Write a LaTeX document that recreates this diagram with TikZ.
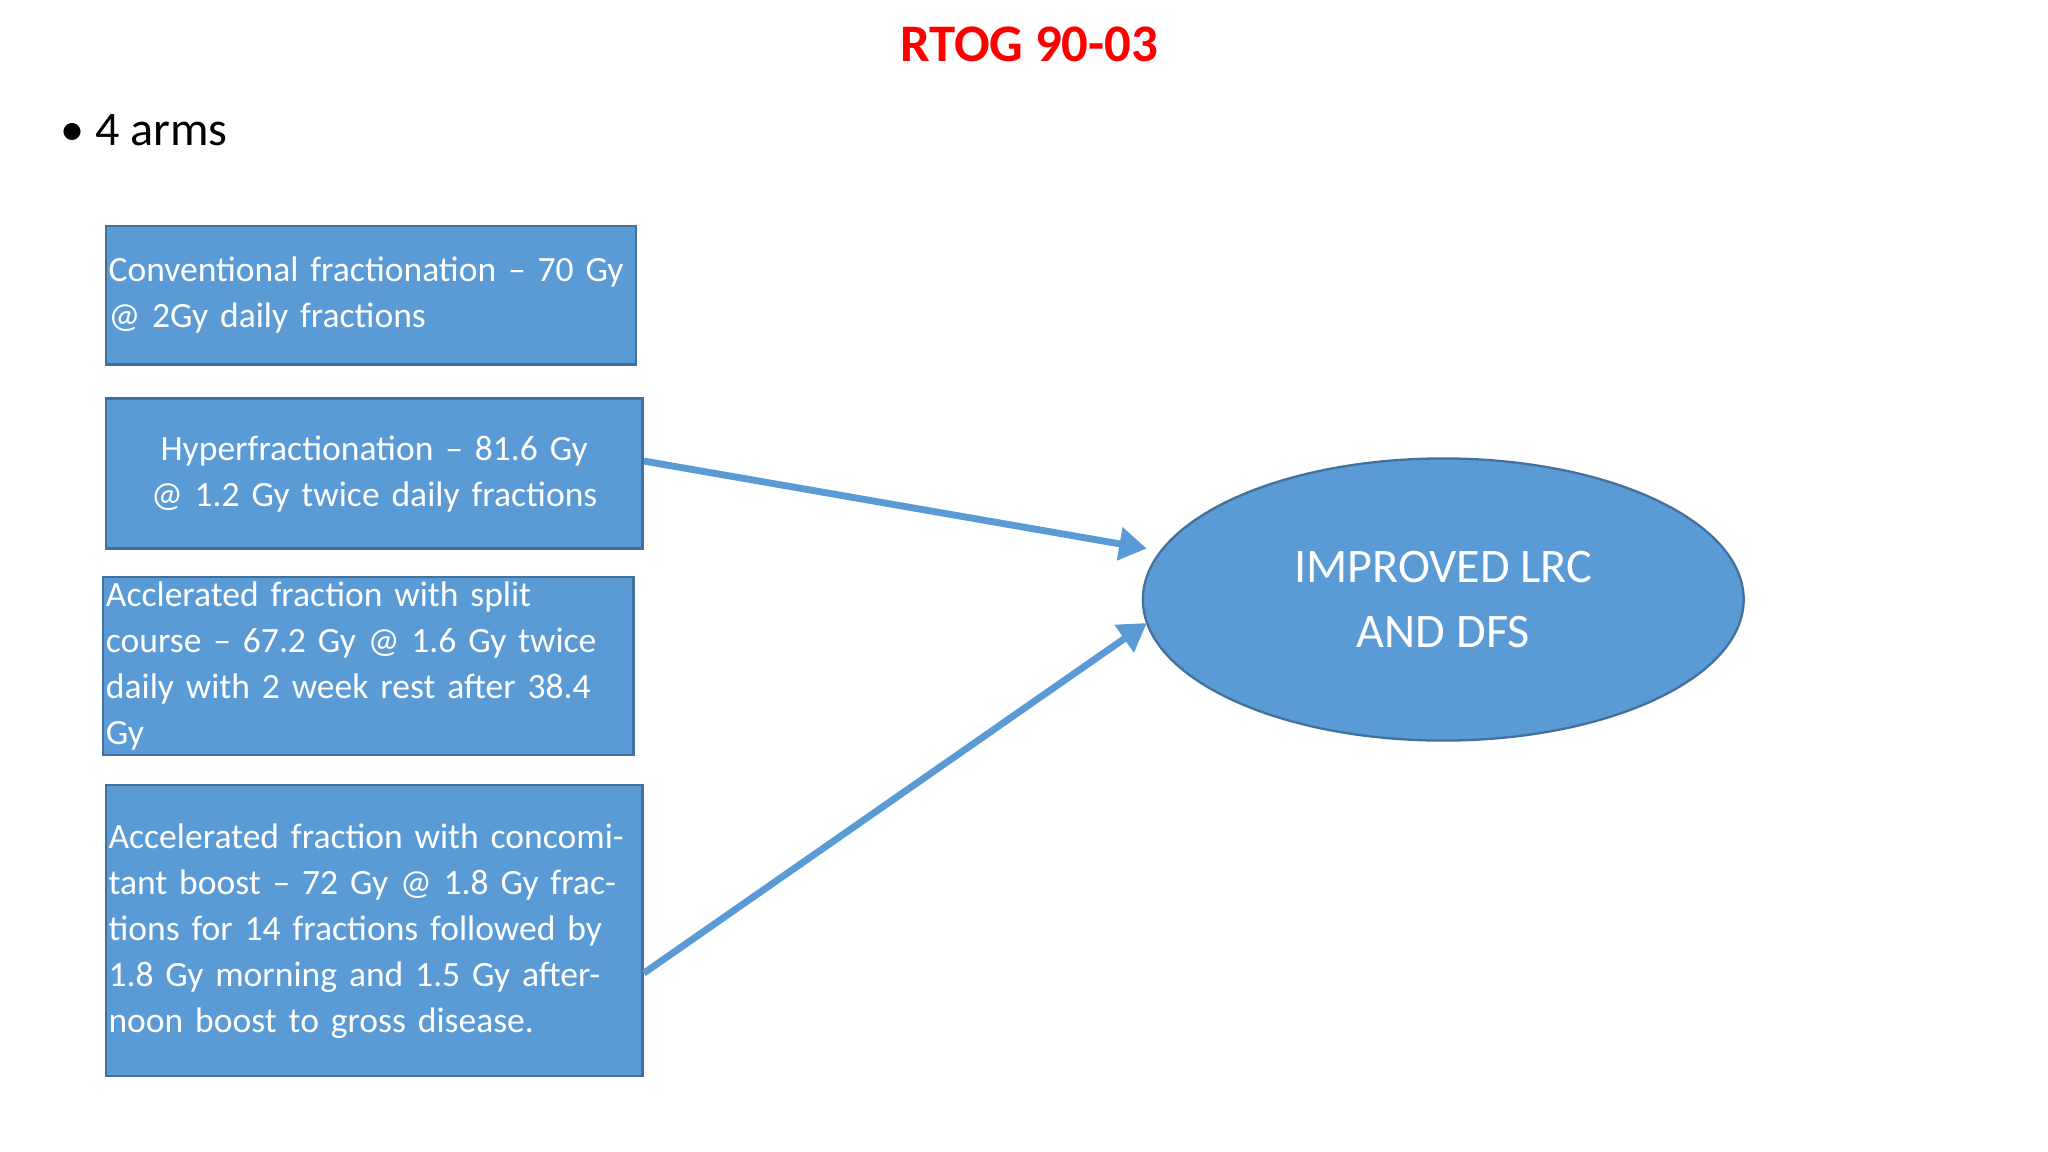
\documentclass[tikz,border=0pt]{standalone}
\usepackage{fontspec}
\setmainfont{Carlito}
\usetikzlibrary{shapes.geometric,arrows.meta}
\definecolor{fillb}{HTML}{5B9BD5}
\definecolor{drawb}{HTML}{41719C}
\begin{document}
\begin{tikzpicture}[x=0.02cm,y=-0.02cm,
 box/.style={draw=drawb,line width=1pt,fill=fillb,text=white,font=\fontsize{15.5}{20}\selectfont,inner sep=1pt,anchor=north west},
 arr/.style={draw=fillb,line width=3pt,-{Triangle[length=12pt,width=14pt]}}]
\useasboundingbox (0,0) rectangle (1568,882);
\node[text=red,font=\bfseries\fontsize{23}{28}\selectfont] (t) at (788,34) {RTOG 90-03};
\node[anchor=west,font=\fontsize{21}{26}\selectfont] (a) at (40,100) {\textbullet\ 4 arms};
\path[box] (81,173) rectangle (487,279);
\node[anchor=west,text=white,font=\fontsize{15.5}{20}\selectfont,text width=400*0.02cm,align=left,inner sep=1pt] (b1) at (81,226) {Conventional fractionation – 70 Gy @ 2Gy daily fractions};
\path[box] (81,305) rectangle (492,420);
\node[text=white,font=\fontsize{15.5}{20}\selectfont,text width=405*0.02cm,align=center,inner sep=1pt] (b2) at (286.5,363) {Hyperfractionation – 81.6 Gy @ 1.2 Gy twice daily fractions};
\path[box] (79,442) rectangle (485,578);
\node[anchor=west,text=white,font=\fontsize{15.5}{20}\selectfont,text width=400*0.02cm,align=left,inner sep=1pt] (b3) at (79,510) {Acclerated fraction with split course – 67.2 Gy @ 1.6 Gy twice daily with 2 week rest after 38.4 Gy};
\path[box] (81,601) rectangle (492,824);
\node[anchor=west,text=white,font=\fontsize{15.5}{20}\selectfont,text width=405*0.02cm,align=left,inner sep=1pt] (b4) at (81,713) {Accelerated fraction with concomitant boost – 72 Gy @ 1.8 Gy fractions for 14 fractions followed by 1.8 Gy morning and 1.5 Gy afternoon boost to gross disease.};
\node[ellipse,draw=drawb,line width=1pt,fill=fillb,text=white,minimum width=460*0.02cm,minimum height=216*0.02cm,align=center,font=\fontsize{21}{28}\selectfont] (e) at (1105,459) {IMPROVED LRC\\AND DFS};
\coordinate (s2) at (493,353);
\coordinate (s4) at (493,745);
\draw[arr] (s2) -- (878,420);
\draw[arr] (s4) -- (878,477);
\end{tikzpicture}
\end{document}
